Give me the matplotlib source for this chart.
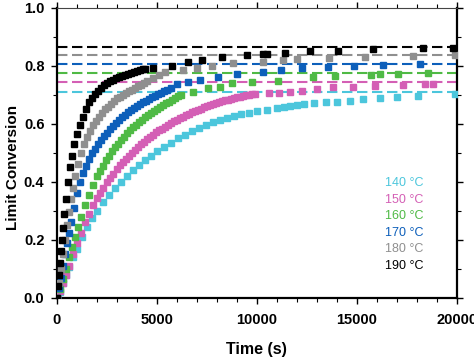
import matplotlib
matplotlib.use("Agg")
import matplotlib.pyplot as plt
from matplotlib.ticker import MultipleLocator

plt.rcParams['font.family'] = ['Liberation Sans', 'DejaVu Sans']

labels = ["140 °C", "150 °C", "160 °C", "170 °C", "180 °C", "190 °C"]
colors = ["#4cc6dc", "#d45fb5", "#4fba45", "#0d5fba", "#8f8f8f", "#000000"]
limits = [0.711, 0.744, 0.777, 0.806, 0.838, 0.864]

t_140 = [0, 150, 300, 450, 600, 800, 1000, 1250, 1500, 1750, 2000, 2300, 2600, 2900,
         3200, 3500, 3800, 4100, 4400, 4700, 5000, 5350, 5700, 6050, 6400, 6750, 7100,
         7450, 7800, 8150, 8500, 8850, 9200, 9600, 10000, 10500, 11000, 11350, 11650,
         12000, 12350, 12850, 13450, 14000, 14650, 15300, 16150, 17000, 18050, 19900]
c_140 = [0.0, 0.02, 0.05, 0.08, 0.105, 0.14, 0.17, 0.21, 0.245, 0.275, 0.30, 0.33, 0.355,
         0.38, 0.40, 0.42, 0.44, 0.458, 0.475, 0.49, 0.505, 0.52, 0.535, 0.55, 0.562,
         0.575, 0.587, 0.597, 0.606, 0.614, 0.622, 0.628, 0.634, 0.639, 0.643, 0.648,
         0.655, 0.658, 0.661, 0.664, 0.667, 0.671, 0.676, 0.677, 0.68, 0.685, 0.689,
         0.694, 0.697, 0.703]

t_150 = [0, 150, 300, 450, 600, 800, 1000, 1200, 1400, 1600, 1800, 2000, 2150, 2300,
         2500, 2650, 2800, 3000, 3150, 3300, 3450, 3600, 3750, 3900, 4050, 4200, 4350,
         4500, 4650, 4800, 4950, 5100, 5250, 5400, 5550, 5700, 5850, 6000, 6150, 6300,
         6450, 6600, 6750, 6900, 7050, 7200, 7350, 7500, 7650, 7800, 7950, 8100, 8250,
         8400, 8550, 8700, 8850, 9000, 9150, 9300, 9450, 9600, 9750, 9900, 10600,
         11100, 11650, 12250, 13000, 13800, 14800, 15900, 17300, 18400, 18800]
c_150 = [0.0, 0.025, 0.05, 0.08, 0.11, 0.15, 0.19, 0.225, 0.26, 0.29, 0.32, 0.345, 0.36,
         0.378, 0.40, 0.413, 0.427, 0.445, 0.457, 0.47, 0.48, 0.49, 0.50, 0.51, 0.52,
         0.53, 0.538, 0.547, 0.555, 0.563, 0.571, 0.578, 0.584, 0.59, 0.597, 0.603,
         0.609, 0.614, 0.62, 0.625, 0.63, 0.635, 0.64, 0.644, 0.649, 0.653, 0.657,
         0.661, 0.665, 0.668, 0.672, 0.675, 0.678, 0.681, 0.684, 0.687, 0.69, 0.692,
         0.694, 0.696, 0.698, 0.70, 0.702, 0.703, 0.706, 0.708, 0.711, 0.715, 0.72,
         0.726, 0.726, 0.731, 0.734, 0.738, 0.738]

t_160 = [0, 150, 300, 450, 600, 750, 900, 1050, 1200, 1400, 1600, 1800, 2000, 2150,
         2300, 2450, 2600, 2750, 2900, 3050, 3200, 3350, 3500, 3650, 3800, 3950, 4100,
         4250, 4400, 4550, 4700, 4850, 5000, 5150, 5300, 5450, 5600, 5750, 5900, 6050,
         6200, 6800, 7550, 8150, 8750, 9750, 11050, 12800, 13900, 15700, 16150, 17050,
         18550]
c_160 = [0.0, 0.03, 0.065, 0.10, 0.14, 0.175, 0.21, 0.245, 0.28, 0.32, 0.355, 0.39, 0.42,
         0.438, 0.456, 0.474, 0.49, 0.505, 0.52, 0.532, 0.545, 0.556, 0.567, 0.578,
         0.588, 0.597, 0.606, 0.615, 0.623, 0.631, 0.638, 0.645, 0.652, 0.659, 0.665,
         0.671, 0.677, 0.683, 0.689, 0.695, 0.70, 0.711, 0.723, 0.729, 0.74, 0.746,
         0.749, 0.761, 0.766, 0.769, 0.771, 0.772, 0.775]

t_170 = [0, 100, 200, 300, 400, 500, 600, 700, 850, 1000, 1150, 1300, 1450, 1600, 1750,
         1900, 2050, 2200, 2350, 2500, 2650, 2800, 2950, 3100, 3250, 3400, 3550, 3700,
         3850, 4000, 4150, 4300, 4450, 4600, 4750, 4900, 5050, 5200, 5350, 5500, 5700,
         6000, 6550, 7150, 8050, 9000, 10300, 11200, 12250, 13550, 14850, 16300, 18150]
c_170 = [0.0, 0.035, 0.07, 0.11, 0.15, 0.19, 0.225, 0.26, 0.31, 0.36, 0.40, 0.43, 0.455,
         0.478, 0.498, 0.515, 0.53, 0.544, 0.557, 0.57, 0.583, 0.594, 0.604, 0.614,
         0.623, 0.632, 0.641, 0.649, 0.656, 0.662, 0.668, 0.674, 0.68, 0.686, 0.692,
         0.697, 0.702, 0.707, 0.712, 0.717, 0.725, 0.737, 0.746, 0.752, 0.763, 0.772,
         0.78, 0.786, 0.792, 0.795, 0.799, 0.802, 0.806]

t_180 = [0, 100, 200, 300, 400, 500, 600, 700, 800, 900, 1050, 1200, 1350, 1500, 1650,
         1800, 1950, 2100, 2250, 2400, 2550, 2700, 2850, 3000, 3150, 3300, 3450, 3600,
         3750, 3900, 4050, 4200, 4350, 4500, 4800, 5100, 5400, 6300, 7000, 7750, 8800,
         10300, 11300, 12000, 13600, 15400, 17800, 19900]
c_180 = [0.0, 0.05, 0.10, 0.15, 0.20, 0.25, 0.295, 0.34, 0.38, 0.42, 0.46, 0.50, 0.53,
         0.555, 0.577, 0.595, 0.61, 0.625, 0.638, 0.65, 0.66, 0.67, 0.679, 0.688, 0.694,
         0.70, 0.706, 0.712, 0.718, 0.724, 0.73, 0.735, 0.741, 0.748, 0.76, 0.77, 0.778,
         0.786, 0.792, 0.798, 0.809, 0.815, 0.821, 0.823, 0.827, 0.832, 0.834, 0.836]

t_190 = [0, 50, 100, 150, 200, 250, 300, 375, 450, 550, 650, 750, 850, 1000, 1150, 1300,
         1450, 1600, 1750, 1900, 2050, 2200, 2350, 2500, 2650, 2800, 2950, 3100, 3250,
         3400, 3550, 3700, 3850, 4000, 4150, 4300, 4400, 4800, 5750, 6550, 7250, 8250,
         9500, 10300, 10500, 11400, 12650, 14050, 15800, 18300, 19800]
c_190 = [0.0, 0.04, 0.08, 0.12, 0.16, 0.20, 0.24, 0.29, 0.34, 0.40, 0.45, 0.49, 0.53,
         0.565, 0.595, 0.625, 0.65, 0.675, 0.69, 0.703, 0.714, 0.725, 0.734, 0.741,
         0.748, 0.753, 0.758, 0.762, 0.766, 0.77, 0.773, 0.776, 0.779, 0.782, 0.785,
         0.788, 0.789, 0.793, 0.798, 0.815, 0.821, 0.83, 0.838, 0.841, 0.841, 0.844,
         0.85, 0.853, 0.857, 0.861, 0.863]

series = [(t_140, c_140), (t_150, c_150), (t_160, c_160),
          (t_170, c_170), (t_180, c_180), (t_190, c_190)]

fig = plt.figure(figsize=(4.74, 3.61), dpi=100)
ax = fig.add_axes([0.120, 0.175, 0.844, 0.803])

for (t, c), col, lim in zip(series, colors, limits):
    ax.axhline(lim, color=col, lw=1.5, ls=(0, (5, 2.2)), zorder=2)
    ax.plot(t, c, ls='none', marker='s', ms=4.9, color=col, mec=col, zorder=3)

ax.set_xlim(0, 20000)
ax.set_ylim(0, 1.0)
ax.xaxis.set_major_locator(MultipleLocator(5000))
ax.xaxis.set_minor_locator(MultipleLocator(1000))
ax.yaxis.set_major_locator(MultipleLocator(0.2))
ax.yaxis.set_minor_locator(MultipleLocator(0.1))
ax.yaxis.set_major_formatter(plt.FuncFormatter(lambda v, p: f"{v:.1f}"))

for side in ['left', 'bottom', 'right']:
    ax.spines[side].set_linewidth(1.6)
ax.spines['top'].set_linewidth(0.8)
ax.spines['top'].set_color('#444444')

ax.tick_params(axis='x', which='major', direction='out', length=4, width=1,
               labelsize=10.5, pad=7)
ax.tick_params(axis='y', which='major', direction='out', length=4, width=1,
               labelsize=10.5, pad=5)
ax.tick_params(axis='both', which='minor', direction='out', length=3, width=0.8)
ax.tick_params(axis='x', which='both', top=True)
ax.tick_params(axis='y', which='both', right=True)
for lab in ax.get_xticklabels() + ax.get_yticklabels():
    lab.set_fontweight('bold')

ax.set_xlabel("Time (s)", fontsize=11.5, fontweight='bold', labelpad=11)
ax.set_ylabel("Limit Conversion", fontsize=11, fontweight='bold')
ax.yaxis.set_label_coords(-0.092, 0.45)

for i, (lab, col) in enumerate(zip(labels, colors)):
    ax.text(0.82, 0.396 - i * 0.057, lab, color=col, fontsize=9,
            transform=ax.transAxes, va='center', ha='left')

fig.savefig("out.png", dpi=100)
